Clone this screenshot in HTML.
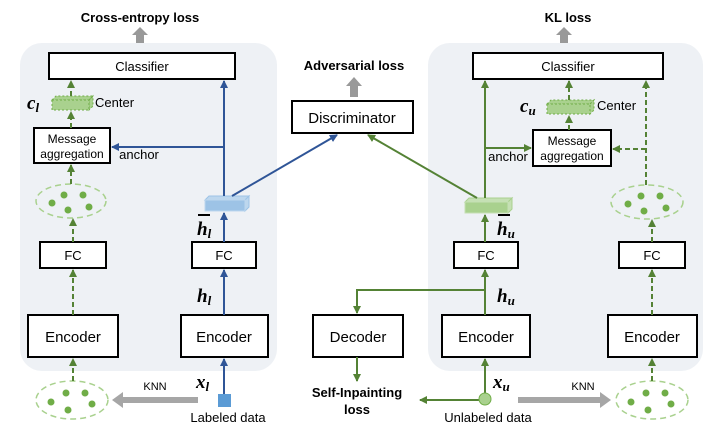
<!DOCTYPE html>
<html><head><meta charset="utf-8"><style>
body{margin:0;background:#fff;}
svg{display:block;font-family:"Liberation Sans",sans-serif;}
.b{font-weight:bold;font-size:13px;}
.t{font-size:13px;}
.m{font-family:"Liberation Serif",serif;font-weight:bold;font-style:italic;font-size:19px;}
</style></head><body>
<svg width="707" height="441" viewBox="0 0 707 441" xmlns="http://www.w3.org/2000/svg">
<defs>
<marker id="ab" markerWidth="8" markerHeight="8" refX="7" refY="4" orient="auto" markerUnits="userSpaceOnUse"><path d="M0,0 L8,4 L0,8 z" fill="#2f5597"/></marker>
<marker id="ag" markerWidth="8" markerHeight="8" refX="7" refY="4" orient="auto" markerUnits="userSpaceOnUse"><path d="M0,0 L8,4 L0,8 z" fill="#548235"/></marker>
</defs>
<rect x="20" y="43" width="257" height="328" rx="22" fill="#eef1f5"/>
<rect x="428" y="43" width="275" height="328" rx="22" fill="#eef1f5"/>

<text x="140" y="22" class="b" text-anchor="middle">Cross-entropy loss</text>
<text x="568" y="22" class="b" text-anchor="middle">KL loss</text>
<text x="354" y="70" class="b" text-anchor="middle">Adversarial loss</text>
<g fill="#999">
<path d="M136,43 L136,35 L132,35 L140,27 L148,35 L144,35 L144,43 z"/>
<path d="M560,43 L560,35 L556,35 L564,27 L572,35 L568,35 L568,43 z"/>
<path d="M350,97 L350,86 L346,86 L354,77 L362,86 L358,86 L358,97 z"/>
</g>

<g fill="#fff" stroke="#000" stroke-width="2">
<rect x="49" y="53" width="186" height="26"/>
<rect x="473" y="53" width="190" height="26"/>
<rect x="34" y="128" width="76" height="35"/>
<rect x="533" y="130" width="78" height="36"/>
<rect x="292" y="101" width="121" height="32"/>
<rect x="40" y="242" width="66" height="26"/>
<rect x="192" y="242" width="64" height="26"/>
<rect x="454" y="242" width="64" height="26"/>
<rect x="619" y="242" width="66" height="26"/>
<rect x="28" y="315" width="90" height="42"/>
<rect x="181" y="315" width="87" height="42"/>
<rect x="313" y="315" width="90" height="42"/>
<rect x="442" y="315" width="88" height="42"/>
<rect x="608" y="315" width="89" height="42"/>
</g>
<g class="t" font-size="13">
<text x="142" y="71" text-anchor="middle">Classifier</text>
<text x="568" y="71" text-anchor="middle">Classifier</text>
<text x="72" y="143" text-anchor="middle" font-size="12">Message</text>
<text x="72" y="158" text-anchor="middle" font-size="12">aggregation</text>
<text x="572" y="145" text-anchor="middle" font-size="12">Message</text>
<text x="572" y="160" text-anchor="middle" font-size="12">aggregation</text>
<text x="352" y="123" text-anchor="middle" font-size="15">Discriminator</text>
<text x="73" y="260" text-anchor="middle">FC</text>
<text x="224" y="260" text-anchor="middle">FC</text>
<text x="486" y="260" text-anchor="middle">FC</text>
<text x="652" y="260" text-anchor="middle">FC</text>
<text x="73" y="342" text-anchor="middle" font-size="15">Encoder</text>
<text x="224" y="342" text-anchor="middle" font-size="15">Encoder</text>
<text x="358" y="342" text-anchor="middle" font-size="15">Decoder</text>
<text x="486" y="342" text-anchor="middle" font-size="15">Encoder</text>
<text x="652" y="342" text-anchor="middle" font-size="15">Encoder</text>
<text x="95" y="107" font-size="13">Center</text>
<text x="597" y="110" font-size="13">Center</text>
<text x="139" y="159" text-anchor="middle">anchor</text>
<text x="508" y="161" text-anchor="middle">anchor</text>
<text x="155" y="390" text-anchor="middle" font-size="11">KNN</text>
<text x="583" y="390" text-anchor="middle" font-size="11">KNN</text>
<text x="228" y="422" text-anchor="middle">Labeled data</text>
<text x="488" y="422" text-anchor="middle">Unlabeled data</text>
</g>
<text x="357" y="397" class="b" text-anchor="middle">Self-Inpainting</text>
<text x="357" y="414" class="b" text-anchor="middle">loss</text>

<text x="27" y="109" class="m">c<tspan font-size="13" dy="3">l</tspan></text>
<text x="520" y="112" class="m">c<tspan font-size="13" dy="3">u</tspan></text>
<text x="197" y="235" class="m">h<tspan font-size="13" dy="3">l</tspan></text>
<line x1="198" y1="215" x2="210" y2="215" stroke="#000" stroke-width="2"/>
<text x="197" y="302" class="m">h<tspan font-size="13" dy="3">l</tspan></text>
<text x="497" y="235" class="m">h<tspan font-size="13" dy="3">u</tspan></text>
<line x1="498" y1="215" x2="510" y2="215" stroke="#000" stroke-width="2"/>
<text x="497" y="302" class="m">h<tspan font-size="13" dy="3">u</tspan></text>
<text x="196" y="388" class="m">x<tspan font-size="13" dy="3">l</tspan></text>
<text x="493" y="388" class="m">x<tspan font-size="13" dy="3">u</tspan></text>

<g fill="none" stroke="#a9d18e" stroke-width="1.5" stroke-dasharray="6,4">
<ellipse cx="71" cy="201" rx="35" ry="17"/>
<ellipse cx="647" cy="202" rx="36" ry="17"/>
<ellipse cx="72" cy="400" rx="36" ry="19"/>
<ellipse cx="652" cy="400" rx="36" ry="19"/>
</g>
<g fill="#70ad47">
<circle cx="64" cy="195" r="3.5"/><circle cx="83" cy="195" r="3.5"/><circle cx="52" cy="203" r="3.5"/><circle cx="68" cy="210" r="3.5"/><circle cx="89" cy="207" r="3.5"/>
<circle cx="641" cy="196" r="3.5"/><circle cx="660" cy="196" r="3.5"/><circle cx="628" cy="204" r="3.5"/><circle cx="644" cy="211" r="3.5"/><circle cx="666" cy="208" r="3.5"/>
<circle cx="66" cy="393" r="3.5"/><circle cx="85" cy="393" r="3.5"/><circle cx="51" cy="402" r="3.5"/><circle cx="68" cy="410" r="3.5"/><circle cx="92" cy="404" r="3.5"/>
<circle cx="646" cy="393" r="3.5"/><circle cx="665" cy="393" r="3.5"/><circle cx="631" cy="402" r="3.5"/><circle cx="648" cy="410" r="3.5"/><circle cx="671" cy="404" r="3.5"/>
</g>

<g>
<path d="M52,100 L56,96 L93,96 L89,100 z M89,100 L93,96 L93,106 L89,110 z" fill="#a9d18e" stroke="#70ad47" stroke-dasharray="2,2"/>
<rect x="52" y="100" width="37" height="10" fill="#a9d18e" stroke="#70ad47" stroke-dasharray="2,2"/>
<path d="M547,104 L551,100 L594,100 L590,104 z M590,104 L594,100 L594,110 L590,114 z" fill="#a9d18e" stroke="#70ad47" stroke-dasharray="2,2"/>
<rect x="547" y="104" width="43" height="10" fill="#a9d18e" stroke="#70ad47" stroke-dasharray="2,2"/>
<path d="M205,200 L209,196 L249,196 L245,200 z M245,200 L249,196 L249,207 L245,211 z" fill="#bdd7ee" stroke="#9dc3e6"/>
<rect x="205" y="200" width="40" height="11" fill="#9dc3e6" stroke="#bdd7ee"/>
<path d="M465,202 L469,198 L512,198 L508,202 z M508,202 L512,198 L512,209 L508,213 z" fill="#c5e0b4" stroke="#a9d18e"/>
<rect x="465" y="202" width="43" height="11" fill="#a9d18e" stroke="#c5e0b4"/>
</g>

<g stroke="#2f5597" stroke-width="2" fill="none">
<line x1="224" y1="196" x2="224" y2="81" marker-end="url(#ab)"/>
<line x1="224" y1="147" x2="112" y2="147" marker-end="url(#ab)"/>
<line x1="232" y1="196" x2="337" y2="135" marker-end="url(#ab)"/>
<line x1="224" y1="242" x2="224" y2="213" marker-end="url(#ab)"/>
<line x1="224" y1="315" x2="224" y2="270" marker-end="url(#ab)"/>
<line x1="224" y1="394" x2="224" y2="359" marker-end="url(#ab)"/>
</g>
<rect x="218" y="394" width="13" height="13" fill="#5b9bd5"/>

<g stroke="#548235" stroke-width="2" fill="none">
<line x1="485" y1="198" x2="485" y2="81" marker-end="url(#ag)"/>
<line x1="485" y1="148" x2="531" y2="148" marker-end="url(#ag)"/>
<line x1="477" y1="198" x2="368" y2="135" marker-end="url(#ag)"/>
<line x1="485" y1="242" x2="485" y2="215" marker-end="url(#ag)"/>
<line x1="485" y1="315" x2="485" y2="270" marker-end="url(#ag)"/>
<polyline points="485,290 357,290 357,313" marker-end="url(#ag)"/>
<line x1="357" y1="357" x2="357" y2="381" marker-end="url(#ag)"/>
<line x1="485" y1="393" x2="485" y2="359" marker-end="url(#ag)"/>
<line x1="479" y1="400" x2="420" y2="400" marker-end="url(#ag)"/>
</g>
<circle cx="485" cy="399" r="6" fill="#a9d18e" stroke="#70ad47"/>

<g stroke="#548235" stroke-width="2" fill="none" stroke-dasharray="5,3">
<line x1="71" y1="96" x2="71" y2="81" marker-end="url(#ag)"/>
<line x1="71" y1="128" x2="71" y2="112" marker-end="url(#ag)"/>
<line x1="71" y1="184" x2="71" y2="165" marker-end="url(#ag)"/>
<line x1="73" y1="242" x2="73" y2="219" marker-end="url(#ag)"/>
<line x1="73" y1="315" x2="73" y2="270" marker-end="url(#ag)"/>
<line x1="73" y1="381" x2="73" y2="359" marker-end="url(#ag)"/>
<line x1="569" y1="100" x2="569" y2="81" marker-end="url(#ag)"/>
<line x1="569" y1="130" x2="569" y2="116" marker-end="url(#ag)"/>
<line x1="646" y1="185" x2="646" y2="81" marker-end="url(#ag)"/>
<line x1="646" y1="149" x2="613" y2="149" marker-end="url(#ag)"/>
<line x1="652" y1="242" x2="652" y2="220" marker-end="url(#ag)"/>
<line x1="652" y1="315" x2="652" y2="270" marker-end="url(#ag)"/>
<line x1="652" y1="381" x2="652" y2="359" marker-end="url(#ag)"/>
</g>

<g fill="#a6a6a6">
<path d="M198,397 L123,397 L123,392 L112,400 L123,408 L123,403 L198,403 z"/>
<path d="M518,397 L600,397 L600,392 L611,400 L600,408 L600,403 L518,403 z"/>
</g>
</svg>
</body></html>
